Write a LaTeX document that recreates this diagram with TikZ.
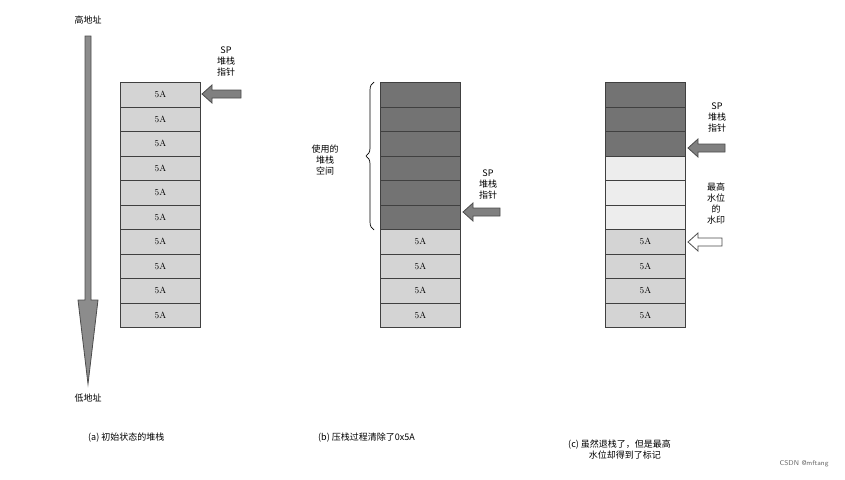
\documentclass[tikz,border=0pt]{standalone}
\usepackage{fontspec}
\newfontfamily\cjk{Noto Sans CJK SC}
\usetikzlibrary{decorations.pathreplacing,shapes.arrows,calc}
\begin{document}
\begin{tikzpicture}[x=1pt,y=-1pt,
  cell/.style={draw=black!75,line width=1pt,minimum width=80pt,minimum height=24.5pt,inner sep=0pt,anchor=north west,font=\small},
  light/.style={cell,fill=black!17},
  dark/.style={cell,fill=black!55},
  pale/.style={cell,fill=black!7},
  lbl/.style={align=center,font=\cjk\small,inner sep=0pt},
  captxt/.style={align=left,font=\cjk\small,inner sep=0pt,anchor=west},
  ptr/.style={draw=black!70,fill=black!50,line width=0.8pt}]
\useasboundingbox (0,0) rectangle (845,479);
% address arrow
\node[lbl] (hi) at (88,20) {高地址};
\node[lbl] (lo) at (88,398) {低地址};
\draw[ptr,fill=black!45] (85,36) -- (91,36) -- (91,300) -- (98,300) -- (88,384) -- (78,300) -- (85,300) -- cycle;
% stack a
\foreach \i in {0,...,9} \node[light] (a\i) at (120,82+24.5*\i) {5A};
% stack b
\foreach \i in {0,...,5} \node[dark] (b\i) at (380,82+24.5*\i) {};
\foreach \i in {6,...,9} \node[light] (b\i) at (380,82+24.5*\i) {5A};
% stack c
\foreach \i in {0,...,2} \node[dark] (c\i) at (605,82+24.5*\i) {};
\foreach \i in {3,...,5} \node[pale] (c\i) at (605,82+24.5*\i) {};
\foreach \i in {6,...,9} \node[light] (c\i) at (605,82+24.5*\i) {5A};
% SP a
\node[lbl] (spa) at (226,62) {SP\\堆栈\\指针};
\draw[ptr] (241,90) -- (212,90) -- (212,85) -- (202,94) -- (212,103) -- (212,98) -- (241,98) -- cycle;
% SP b
\node[lbl] (spb) at (488,184) {SP\\堆栈\\指针};
\draw[ptr] (500,208) -- (473,208) -- (473,203) -- (463,212) -- (473,221) -- (473,216) -- (500,216) -- cycle;
% SP c
\node[lbl] (spc) at (717,118) {SP\\堆栈\\指针};
\draw[ptr] (725,144) -- (698,144) -- (698,139) -- (688,148) -- (698,157) -- (698,152) -- (725,152) -- cycle;
% watermark
\node[lbl] (wm) at (716,204) {最高\\水位\\的\\水印};
\draw[ptr,fill=white] (722,238) -- (698,238) -- (698,233) -- (688,242) -- (698,251) -- (698,246) -- (722,246) -- cycle;
% brace
\draw[decorate,decoration={brace,amplitude=8pt},line width=0.7pt] ($(b5.south west)+(-6,0)$) coordinate (bb) -- ($(b0.north west)+(-6,0)$) coordinate (bt);
\node[lbl] (used) at (325,160) {使用的\\堆栈\\空间};
% captions
\node[captxt] (capa) at (88,438) {(a)\ 初始状态的堆栈};
\node[captxt] (capb) at (318,438) {(b)\ 压栈过程清除了0x5A};
\node[captxt] (capc) at (568,450) {(c)\ 虽然退栈了，但是最高\\\hspace*{2.3em}水位却得到了标记};
\node[font=\sffamily\scriptsize,text=black!60,anchor=east] (csdn) at (832,464) {CSDN @mftang};
\end{tikzpicture}
\end{document}
